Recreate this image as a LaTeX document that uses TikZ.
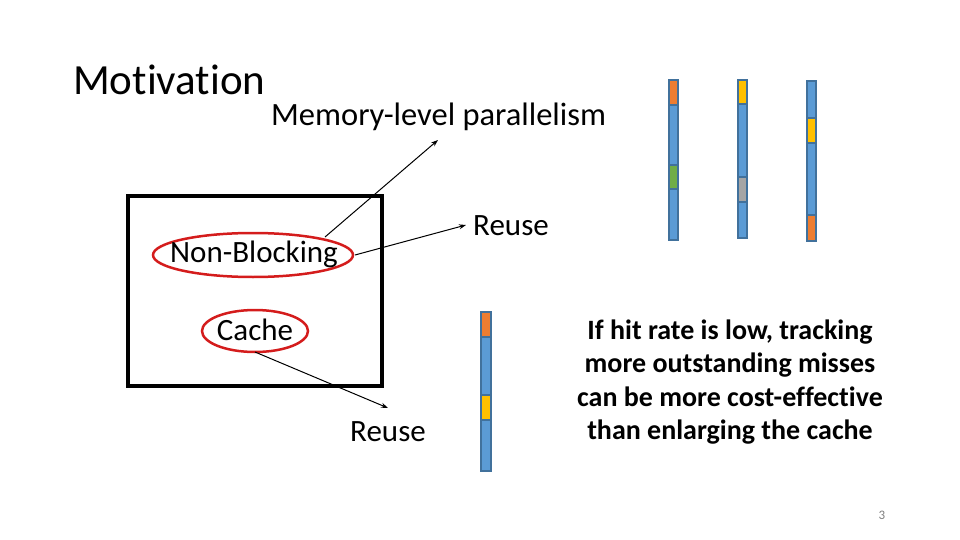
\documentclass[tikz,border=0pt]{standalone}
\usepackage{fontspec}
\setmainfont{Carlito}[Ligatures={NoCommon}]
\usetikzlibrary{shapes.geometric,arrows.meta}
\definecolor{bb}{HTML}{5B9BD5}\definecolor{bo}{HTML}{41719C}
\definecolor{co}{HTML}{ED7D31}\definecolor{cg}{HTML}{70AD47}
\definecolor{cy}{HTML}{FFC000}\definecolor{cr}{HTML}{A5A5A5}
\definecolor{er}{HTML}{D41C1C}
\begin{document}
\begin{tikzpicture}[x=1pt,y=-1pt,
 seg/.style={draw=bo,line width=2pt},
 arr/.style={-{Stealth[length=7pt,width=5pt]},line width=1pt},
 oval/.style={ellipse,draw=er,line width=2.5pt,inner sep=0pt},
 big/.style={font=\fontsize{31}{36}\selectfont}]
\useasboundingbox (0,0) rectangle (960,540);
% bars
\fill[bb] (669,80) rectangle (678,240);
\fill[co] (669,80) rectangle (678,105); \fill[cg] (669,165) rectangle (678,189);
\draw[seg] (669,80) rectangle (678,240); \draw[seg] (669,105)--(678,105);
\draw[seg] (669,165) rectangle (678,189);
\fill[bb] (738,80) rectangle (747,238);
\fill[cy] (738,80) rectangle (747,104); \fill[cr] (738,177) rectangle (747,202);
\draw[seg] (738,80) rectangle (747,238); \draw[seg] (738,104)--(747,104);
\draw[seg] (738,177) rectangle (747,202);
\fill[bb] (807,81) rectangle (816,241);
\fill[cy] (807,118) rectangle (816,143); \fill[co] (807,215) rectangle (816,241);
\draw[seg] (807,81) rectangle (816,241); \draw[seg] (807,118) rectangle (816,143);
\draw[seg] (807,215)--(816,215);
\fill[bb] (481,312) rectangle (491,471);
\fill[co] (481,312) rectangle (491,337); \fill[cy] (481,395) rectangle (491,420);
\draw[seg] (481,312) rectangle (491,471); \draw[seg] (481,337)--(491,337);
\draw[seg] (481,395) rectangle (491,420);
% texts
\node[anchor=west,inner sep=0pt,font=\fontsize{43}{48}\selectfont] (mot) at (73,80) {Motivation};
\node[anchor=west,inner sep=0pt,font=\fontsize{32.5}{38}\selectfont] (mlp) at (271,117) {Memory-level parallelism};
\draw[line width=3.5pt] (128,196) rectangle (382,386);
\node[oval,minimum width=200pt,minimum height=44pt] (nb) at (253,255) {};
\node[big] (nbt) at (254,254) {Non-Blocking};
\node[oval,minimum width=106pt,minimum height=42pt] (ca) at (255,331) {};
\node[big] (cat) at (255,330) {Cache};
\node[big] (r1) at (511,226) {Reuse};
\node[big] (r2) at (388,432) {Reuse};
\coordinate (m) at (438,140);
\coordinate (nbs) at (325,237);
\coordinate (nbe) at (355,255);
\coordinate (r1e) at (466,225);
\coordinate (cs) at (255,352);
\coordinate (ce) at (388,408);
\draw[arr] (nbs)--(m);
\draw[arr] (nbe)--(r1e);
\draw[arr] (cs)--(ce);
\node[align=center,font=\bfseries\fontsize{28}{33.5}\selectfont] (t) at (730,382) {If hit rate is low, tracking\\more outstanding misses\\can be more cost-effective\\than enlarging the cache};
\node[font=\fontsize{13}{15}\selectfont,text=gray] (p) at (882,515) {3};
\end{tikzpicture}
\end{document}
